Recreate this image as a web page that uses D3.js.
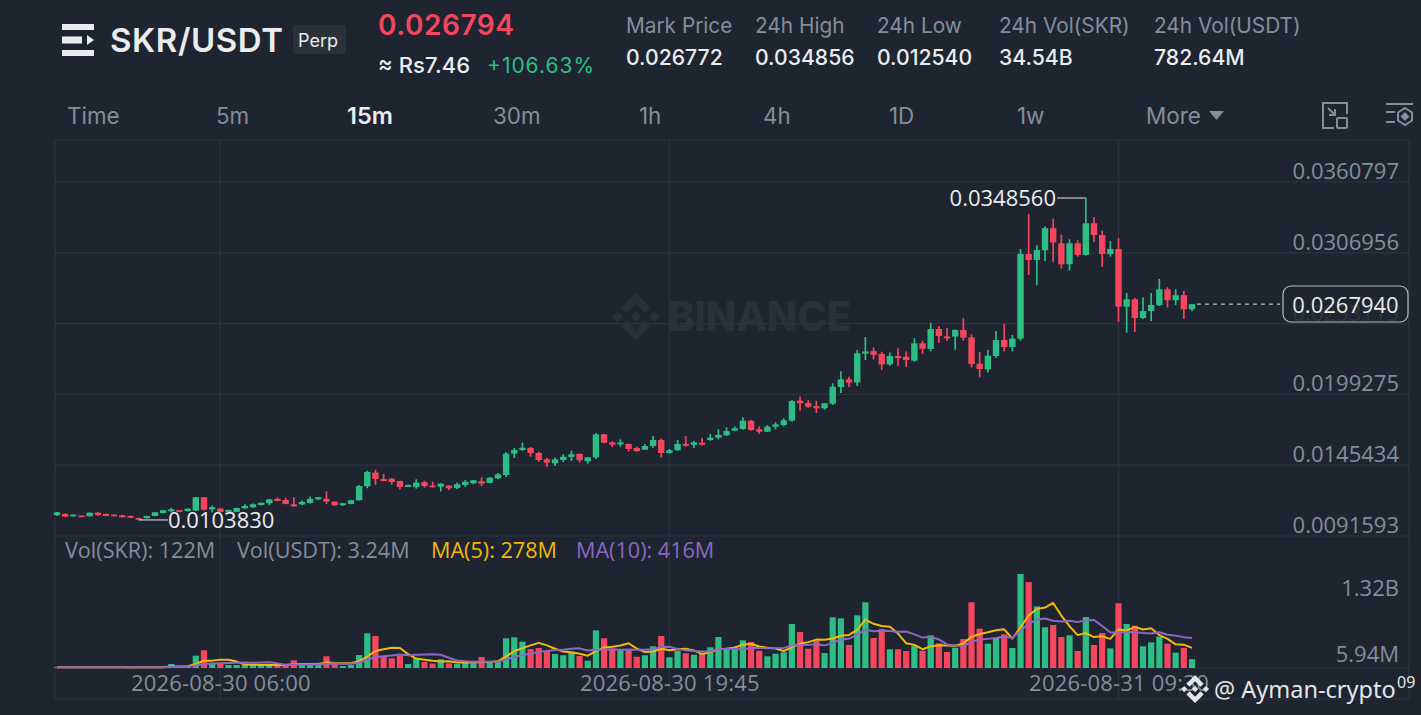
<!DOCTYPE html>
<html>
<head>
<meta charset="utf-8">
<script src="https://cdn.jsdelivr.net/npm/d3@7"></script>
<style>
  html, body { margin: 0; padding: 0; background: #1e2530; overflow: hidden; }
  svg { display: block; font-family: Inter, "Noto Sans", sans-serif; }
</style>
</head>
<body>
<svg id="chart" width="1421" height="715"></svg>
<script>
// prices below are in units of 0.00001 USDT, one entry per 15m candle
const opens = [
  1074,1084,1066,1071,1066,1093,1084,1078,1074,1068,
  1053,1051,1068,1091,1104,1112,1106,1109,1211,1119,
  1124,1096,1099,1127,1135,1152,1165,1198,1190,1157,
  1156,1167,1195,1198,1177,1150,1160,1188,1294,1398,
  1350,1352,1334,1289,1287,1325,1299,1292,1299,1281,
  1304,1317,1332,1319,1355,1380,1542,1570,1585,1547,
  1499,1469,1494,1517,1540,1484,1514,1689,1628,1613,
  1616,1585,1572,1600,1646,1547,1568,1616,1610,1625,
  1646,1663,1682,1717,1730,1793,1727,1709,1747,1760,
  1793,1945,1927,1902,1887,1922,2049,2107,2084,2302,
  2322,2300,2221,2285,2279,2249,2381,2338,2490,2434,
  2432,2483,2427,2226,2183,2285,2407,2353,2417,3060,
  3015,3089,3257,3142,2982,3142,3053,3294,3205,3060,
  3099,2660,2716,2574,2627,2671,2792,2709,2747,2640]
const highs = [
  1099,1088,1080,1073,1095,1097,1086,1080,1078,1072,
  1055,1070,1098,1114,1131,1114,1126,1213,1213,1147,
  1126,1116,1131,1157,1163,1171,1197,1209,1205,1211,
  1186,1216,1213,1255,1179,1167,1190,1304,1413,1420,
  1388,1358,1337,1307,1347,1335,1330,1317,1302,1322,
  1342,1342,1362,1365,1395,1555,1585,1625,1593,1555,
  1509,1511,1537,1565,1543,1517,1699,1692,1636,1651,
  1618,1595,1616,1676,1656,1578,1646,1676,1638,1661,
  1692,1727,1742,1750,1819,1796,1750,1760,1781,1811,
  1950,1976,1950,1945,1927,2077,2168,2127,2330,2429,
  2350,2317,2312,2343,2320,2421,2401,2537,2513,2498,
  2486,2572,2450,2315,2330,2475,2529,2445,3098,3365,
  3127,3270,3329,3206,3172,3165,3486,3340,3238,3160,
  3180,2764,2726,2732,2764,2871,2808,2792,2780,2681]
const lows = [
  1068,1061,1064,1057,1064,1068,1066,1064,1057,1053,
  1038,1049,1066,1087,1096,1097,1101,1106,1109,1096,
  1097,1093,1097,1124,1131,1148,1152,1180,1157,1137,
  1150,1163,1188,1158,1144,1144,1157,1186,1279,1304,
  1331,1307,1271,1286,1276,1283,1284,1255,1266,1274,
  1289,1309,1296,1317,1347,1362,1509,1562,1519,1479,
  1441,1448,1477,1486,1477,1466,1502,1622,1593,1595,
  1560,1555,1570,1587,1514,1542,1565,1595,1585,1604,
  1640,1651,1676,1714,1724,1717,1691,1706,1727,1750,
  1785,1869,1891,1851,1877,1912,2003,2049,2056,2254,
  2259,2178,2211,2211,2201,2241,2302,2320,2384,2401,
  2333,2401,2199,2123,2160,2270,2320,2320,2401,2901,
  2823,3008,3002,2949,2934,3040,3048,3152,2962,3040,
  2544,2462,2468,2566,2551,2665,2655,2673,2566,2625]
const closes = [
  1096,1063,1078,1059,1093,1076,1068,1066,1059,1055,
  1040,1068,1096,1112,1119,1099,1124,1211,1116,1135,
  1099,1114,1129,1144,1157,1169,1195,1182,1160,1142,
  1175,1198,1211,1177,1150,1165,1188,1296,1403,1350,
  1334,1327,1289,1304,1322,1296,1287,1314,1279,1309,
  1329,1340,1314,1359,1385,1542,1570,1587,1547,1494,
  1473,1499,1519,1537,1492,1514,1689,1625,1610,1628,
  1578,1562,1600,1646,1547,1568,1616,1603,1628,1610,
  1663,1684,1714,1735,1793,1722,1709,1747,1765,1796,
  1942,1925,1899,1887,1925,2051,2107,2082,2305,2320,
  2294,2221,2285,2269,2254,2381,2340,2490,2437,2419,
  2483,2424,2224,2186,2287,2407,2353,2417,3060,3015,
  3091,3257,3148,2982,3142,3053,3294,3205,3060,3099,
  2660,2716,2574,2627,2673,2792,2709,2747,2640,2679]

// volumes in millions of SKR
const volumes = [
  12,10,8,9,11,9,8,7,9,8,
  14,12,15,13,55,12,28,170,245,55,
  65,41,41,41,41,37,41,41,41,106,
  41,41,41,162,65,28,41,180,480,443,
  156,134,170,55,134,83,62,120,65,55,
  73,65,152,73,101,411,425,364,263,277,
  235,194,176,212,166,101,521,411,272,249,
  259,156,176,300,443,148,235,203,184,194,
  286,429,249,259,383,360,239,162,198,217,
  609,498,267,373,207,701,687,318,729,909,
  415,539,259,259,235,308,239,452,342,221,
  281,401,909,544,336,419,466,277,1300,1189,
  853,563,595,429,452,235,705,318,484,272,
  895,609,585,300,355,433,336,212,277,122]
const ma5 = [
  12,11,10,10,10,9,9,9,9,8,
  9,10,12,12,22,21,25,56,102,102,
  113,115,89,49,46,40,40,40,40,53,
  54,54,54,78,70,67,67,95,159,234,
  260,279,277,192,130,115,101,91,93,77,
  75,76,82,84,93,160,232,275,313,348,
  313,267,229,219,197,170,235,282,294,311,
  342,269,222,228,267,245,260,266,243,193,
  220,259,268,283,321,336,298,281,268,235,
  285,337,358,393,391,409,447,457,528,669,
  612,582,570,476,341,320,260,299,315,312,
  307,339,431,471,494,522,535,408,560,730,
  817,836,900,726,578,455,483,428,439,403,
  535,516,569,532,549,456,402,327,323,278]
const ma10 = [
  12,11,10,10,10,10,9,9,9,9,
  9,10,10,10,15,15,17,34,57,62,
  67,70,72,75,74,76,78,64,44,49,
  47,47,47,59,61,60,60,74,118,152,
  163,173,186,175,182,187,190,184,142,103,
  95,88,86,88,85,117,154,178,198,220,
  236,249,252,266,272,241,251,255,256,254,
  256,252,252,261,289,293,264,244,235,230,
  232,259,267,263,257,278,278,274,275,278,
  310,317,320,330,313,347,392,407,460,530,
  510,514,513,502,505,466,421,434,395,326,
  313,299,365,393,403,414,437,419,515,612,
  669,685,654,643,654,636,659,664,582,490,
  495,499,498,485,476,495,459,448,427,416]

const priceTicks = [0.0360797, 0.0306956, 0.0253115, 0.0199275, 0.0145434, 0.0091593]
const volTicks = [5.94, 1320]
const volTickLabels = ["5.94M", "1.32B"]
const timeTicks = [20, 75, 130]
const timeTickLabels = ["2026-08-30 06:00", "2026-08-30 19:45", "2026-08-31 09:30"]
const periods = ["Time", "5m", "15m", "30m", "1h", "4h", "1D", "1w", "More"]
const periodX = [67, 216, 347, 493, 639, 763, 889, 1017, 1146]
const statLabels = ["Mark Price", "24h High", "24h Low", "24h Vol(SKR)", "24h Vol(USDT)"]
const statValues = ["0.026772", "0.034856", "0.012540", "34.54B", "782.64M"]
const statX = [626, 755, 877, 999, 1154]
const highIndex = 126, lowIndex = 10
const lastPrice = 0.026794

const UP = "#2ebd85", DOWN = "#f6465d", GRID = "#2d333e", GREY = "#848e9c", WHITE = "#eaecef"
const ORANGE = "#f0b90b", PURPLE = "#8c68c4", OPEN_SANS = "'Open Sans', sans-serif"
const LOGO = ["M38.73 53.2l24.59-24.58 24.6 24.6 14.3-14.31L63.32 0 24.42 38.9z",
  "M0 63.31l14.3-14.31 14.31 14.31-14.31 14.3z",
  "M38.73 73.41l24.59 24.59 24.6-24.6 14.31 14.29-38.9 38.91-38.91-38.88z",
  "M98 63.31l14.3-14.31 14.31 14.3-14.31 14.32z",
  "M77.83 63.3L63.32 48.78 52.59 59.51l-1.24 1.23-2.54 2.54 14.51 14.5 14.51-14.47z"]

const candles = opens.map((o, i) => ({
  i, open: o / 1e5, high: highs[i] / 1e5, low: lows[i] / 1e5, close: closes[i] / 1e5, vol: volumes[i]
}))

const svg = d3.select("#chart")
const x = d3.scaleLinear().domain([0, 139]).range([57, 1192])
const y = d3.scaleLinear().domain([0.0091593, 0.0360797]).range([536, 182])
const yVol = d3.scaleLinear().domain([0, 1320]).range([668, 572.6])
const isUp = d => d.close >= d.open

const text = (str, px, py, size, fill, weight) => svg.append("text")
  .attr("x", px).attr("y", py).attr("font-size", size).attr("fill", fill)
  .attr("font-weight", weight || 400).text(str)

const drawHeader = () => {
  const icon = svg.append("g").attr("fill", WHITE)
  icon.append("rect").attr("x", 62).attr("y", 24).attr("width", 32).attr("height", 6)
  icon.append("rect").attr("x", 62).attr("y", 36.5).attr("width", 20).attr("height", 7)
  icon.append("path").attr("d", "M87 35l7 5-7 5z")
  icon.append("rect").attr("x", 62).attr("y", 50).attr("width", 32).attr("height", 6)

  text("SKR/USDT", 110, 52, 33, WHITE, 600).attr("textLength", 173)
  svg.append("rect").attr("x", 293).attr("y", 25).attr("width", 53).attr("height", 29)
    .attr("rx", 3).attr("fill", "#2b3139")
  text("Perp", 298, 47, 18, WHITE)

  text("0.026794", 378, 35, 28, DOWN, 600).attr("textLength", 136)
  text("≈ Rs7.46", 378, 73, 22, WHITE, 500).attr("textLength", 92)
  text("+106.63%", 487, 73, 21, UP).attr("textLength", 107)

  statLabels.forEach((s, i) => text(s, statX[i], 33, 20.8, GREY))
  statValues.forEach((s, i) => text(s, statX[i], 65, 21.2, WHITE, 500))

  periods.forEach((p, i) => {
    const on = p === "15m"
    text(p, periodX[i], 124, on ? 23.5 : 22.4, on ? WHITE : GREY, on ? 600 : 400)
  })
  svg.append("path").attr("d", "M1209 111h15l-7.5 9z").attr("fill", GREY)

  const tools = svg.append("g").attr("fill", "none").attr("stroke", GREY).attr("stroke-width", 2)
  tools.append("path").attr("d", "M1334 128h-11v-25h24v11M1328 108l7 7M1335 109v6h-6")
  tools.append("rect").attr("x", 1337).attr("y", 118).attr("width", 10).attr("height", 10).attr("rx", 1)
  tools.append("path").attr("d", "M1386 104h27M1386 112h9M1386 122h9")
  tools.append("path").attr("d", "M1405 108l7 4.5v8l-7 4.5-7-4.5v-8z")
  tools.append("path").attr("d", "M1405 113.5l3 3-3 3-3-3z").attr("fill", GREY)
}

const drawWatermark = () => {
  const mark = svg.append("g").attr("fill", "#2a303b")
  mark.append("g").attr("transform", "translate(612,293) scale(0.375)")
    .selectAll("path").data(LOGO).join("path").attr("d", d => d)
  mark.append("text").attr("x", 668).attr("y", 331).attr("font-size", 41)
    .attr("font-weight", 800).attr("textLength", 183).attr("lengthAdjust", "spacingAndGlyphs")
    .text("BINANCE")
}

const drawGrid = () => {
  const grid = svg.append("g").attr("stroke", GRID).attr("stroke-width", 1.2)
  grid.selectAll(".h").data(priceTicks).join("line").attr("class", "h")
    .attr("x1", 55).attr("x2", 1409).attr("y1", d => y(d)).attr("y2", d => y(d))
  grid.selectAll(".f").data([140, 668, 699]).join("line").attr("class", "f")
    .attr("x1", 55).attr("x2", 1409).attr("y1", d => d).attr("y2", d => d)
  grid.selectAll(".v").data(timeTicks).join("line").attr("class", "v")
    .attr("x1", d => x(d)).attr("x2", d => x(d)).attr("y1", 140).attr("y2", 699)
  grid.selectAll(".b").data([55, 1409]).join("line").attr("class", "b")
    .attr("x1", d => d).attr("x2", d => d).attr("y1", 140).attr("y2", 699)
}

const drawAxes = () => {
  const priceAxis = d3.axisLeft(y).tickValues(priceTicks).tickSize(0).tickPadding(0)
    .tickFormat(d3.format(".7f"))
  const gp = svg.append("g").attr("transform", "translate(1399,0)").call(priceAxis)
  gp.select(".domain").remove()
  gp.selectAll("text").attr("fill", GREY).attr("font-size", 22).attr("dy", -3.5)
    .style("font-family", OPEN_SANS)

  const volAxis = d3.axisLeft(yVol).tickValues(volTicks).tickSize(0).tickPadding(0)
    .tickFormat((d, i) => volTickLabels[i])
  const gv = svg.append("g").attr("transform", "translate(1399,0)").call(volAxis)
  gv.select(".domain").remove()
  gv.selectAll("text").attr("fill", GREY).attr("font-size", 22)
    .attr("dy", (d, i) => i === 0 ? -6.5 : 23)
    .style("font-family", OPEN_SANS)

  const timeAxis = d3.axisBottom(x).tickValues(timeTicks).tickSize(0).tickPadding(0)
    .tickFormat((d, i) => timeTickLabels[i])
  const gt = svg.append("g").attr("transform", "translate(0,675)").call(timeAxis)
  gt.select(".domain").remove()
  gt.selectAll("text").attr("fill", GREY).attr("font-size", 22).attr("letter-spacing", 0.2)
    .style("font-family", OPEN_SANS)
}

const drawCandles = () => {
  const g = svg.append("g")
  g.selectAll(".wick").data(candles).join("line").attr("class", "wick")
    .attr("x1", d => x(d.i)).attr("x2", d => x(d.i))
    .attr("y1", d => y(d.high)).attr("y2", d => y(d.low))
    .attr("stroke", d => isUp(d) ? UP : DOWN).attr("stroke-width", 1.7)
  g.selectAll(".body").data(candles).join("rect").attr("class", "body")
    .attr("x", d => x(d.i) - 3.2).attr("width", 6.4)
    .attr("y", d => y(Math.max(d.open, d.close)))
    .attr("height", d => Math.max(1, Math.abs(y(d.open) - y(d.close))))
    .attr("fill", d => isUp(d) ? UP : DOWN)
}

const drawVolume = () => {
  svg.append("g").selectAll("rect").data(candles).join("rect")
    .attr("x", d => x(d.i) - 3.1).attr("width", 6.2)
    .attr("y", d => yVol(d.vol)).attr("height", d => yVol(0) - yVol(d.vol))
    .attr("fill", d => isUp(d) ? UP : DOWN)

  const line = d3.line().x((d, i) => x(i)).y(d => yVol(d))
  ;[[ma5, ORANGE], [ma10, PURPLE]].forEach(([series, color]) => {
    svg.append("path").datum(series).attr("d", line).attr("fill", "none")
      .attr("stroke", color).attr("stroke-width", 2).attr("stroke-linejoin", "round")
  })

  const legend = [["Vol(SKR): 122M", 65, GREY], ["Vol(USDT): 3.24M", 237, GREY],
    ["MA(5): 278M", 431, ORANGE], ["MA(10): 416M", 576, PURPLE]]
  legend.forEach(([s, px, c]) => text(s, px, 558, 21.6, c).style("font-family", OPEN_SANS))
}

const drawMarkers = () => {
  const hy = y(candles[highIndex].high), lowY = y(candles[lowIndex].low)
  const ln = svg.append("g").attr("stroke", "#b7bdc6").attr("stroke-width", 1.3)
  ln.append("line").attr("x1", 1057).attr("x2", x(highIndex)).attr("y1", hy).attr("y2", hy)
  ln.append("line").attr("x1", x(lowIndex)).attr("x2", 168).attr("y1", lowY).attr("y2", lowY)

  const ly = y(lastPrice)
  svg.append("line").attr("x1", x(139) + 5).attr("x2", 1280).attr("y1", ly).attr("y2", ly)
    .attr("stroke", "#b7bdc6").attr("stroke-width", 1.2).attr("stroke-dasharray", "4 4")
  svg.append("rect").attr("x", 1283).attr("y", 286).attr("width", 125).attr("height", 36)
    .attr("rx", 8).attr("fill", "#1e2530").attr("fill-opacity", 0.85)
    .attr("stroke", "#b7bdc6").attr("stroke-width", 1.2)

  const c = svg.append("g").attr("font-size", 22).attr("fill", WHITE)
    .style("font-family", OPEN_SANS)
  c.append("text").attr("x", 1056).attr("y", hy + 8).attr("text-anchor", "end").text("0.0348560")
  c.append("text").attr("x", 168).attr("y", lowY + 8.5).text("0.0103830")
  c.append("text").attr("x", 1345.5).attr("y", 312.5).attr("text-anchor", "middle").text("0.0267940")
}

const drawStamp = () => {
  const s = svg.append("g").attr("fill", "#e6e6e6").style("font-family", "'Noto Sans', sans-serif")
  s.append("g").attr("transform", "translate(1181,675) scale(0.222)")
    .selectAll("path").data(LOGO).join("path").attr("d", d => d)
  s.append("text").attr("x", 1214).attr("y", 698).attr("font-size", 23.5).text("@ Ayman-crypto")
  s.append("text").attr("x", 1397).attr("y", 688).attr("font-size", 16).text("09")
}

drawHeader()
drawWatermark()
drawGrid()
drawAxes()
drawVolume()
drawCandles()
drawMarkers()
drawStamp()
</script>
</body>
</html>
